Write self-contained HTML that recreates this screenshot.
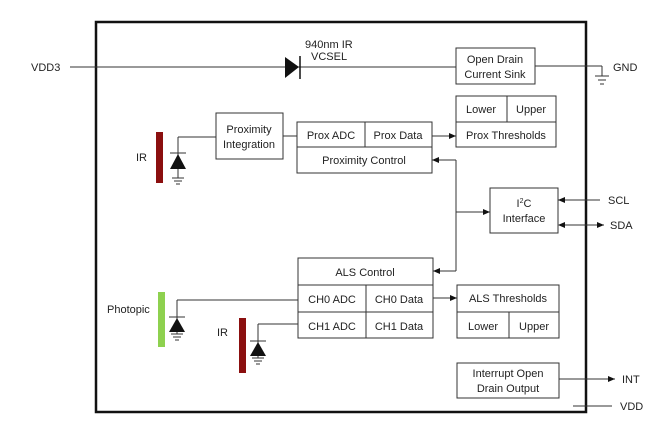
<!DOCTYPE html>
<html><head><style>
body{margin:0;background:#fff;}
svg text{font-family:"Liberation Sans",sans-serif;font-size:11px;fill:#222;}
</style></head><body>
<svg width="663" height="428" viewBox="0 0 663 428" xmlns="http://www.w3.org/2000/svg">
<defs>
<marker id="a" markerWidth="8" markerHeight="8" refX="7" refY="4" orient="auto" markerUnits="userSpaceOnUse"><path d="M0,1 L7,4 L0,7 Z" fill="#111"/></marker>
<marker id="b" markerWidth="8" markerHeight="8" refX="1" refY="4" orient="auto" markerUnits="userSpaceOnUse"><path d="M7,1 L0,4 L7,7 Z" fill="#111"/></marker>
</defs>
<g fill="none" stroke="#333" stroke-width="1">
<rect x="96" y="22" width="490" height="390" stroke="#111" stroke-width="2.5"/>
<!-- VDD3 line -->
<line x1="70" y1="67" x2="456" y2="67"/>
<line x1="535" y1="66" x2="602" y2="66"/>
<line x1="602" y1="66" x2="602" y2="76"/>
<line x1="595" y1="76" x2="609" y2="76"/><line x1="598" y1="80" x2="606" y2="80"/><line x1="600" y1="84" x2="604" y2="84"/>
<rect x="456" y="48" width="79" height="36"/>
<!-- prox -->
<rect x="216" y="113" width="67" height="46"/>
<line x1="283" y1="136" x2="297" y2="136"/>
<rect x="297" y="122" width="135" height="51"/>
<line x1="297" y1="147" x2="432" y2="147"/><line x1="365" y1="122" x2="365" y2="147"/>
<rect x="456" y="96" width="100" height="51"/>
<line x1="456" y1="122" x2="556" y2="122"/><line x1="507" y1="96" x2="507" y2="122"/>
<line x1="432" y1="136" x2="456" y2="136" marker-end="url(#a)"/>
<line x1="456" y1="160" x2="432" y2="160" marker-end="url(#a)"/>
<line x1="456" y1="160" x2="456" y2="271"/>
<line x1="456" y1="212" x2="490" y2="212" marker-end="url(#a)"/>
<line x1="456" y1="271" x2="433" y2="271" marker-end="url(#a)"/>
<rect x="490" y="188" width="68" height="45"/>
<line x1="600" y1="200" x2="558" y2="200" marker-end="url(#a)"/>
<line x1="559" y1="225" x2="604" y2="225" marker-start="url(#b)" marker-end="url(#a)"/>
<!-- prox diode -->
<line x1="178" y1="137" x2="216" y2="137"/>
<line x1="178" y1="137" x2="178" y2="178"/>
<line x1="170" y1="153" x2="186" y2="153"/>
<line x1="172" y1="178" x2="184" y2="178"/><line x1="174" y1="181" x2="182" y2="181"/><line x1="176" y1="184" x2="180" y2="184"/>
<!-- ALS -->
<rect x="298" y="258" width="135" height="80"/>
<line x1="298" y1="285" x2="433" y2="285"/><line x1="298" y1="312" x2="433" y2="312"/><line x1="366" y1="285" x2="366" y2="338"/>
<line x1="433" y1="298" x2="457" y2="298" marker-end="url(#a)"/>
<rect x="457" y="285" width="102" height="53"/>
<line x1="457" y1="312" x2="559" y2="312"/><line x1="509" y1="312" x2="509" y2="338"/>
<rect x="457" y="363" width="102" height="35"/>
<line x1="559" y1="379" x2="615" y2="379" marker-end="url(#a)"/>
<line x1="573" y1="406" x2="612" y2="406"/>
<!-- photopic diode -->
<line x1="177" y1="300" x2="298" y2="300"/>
<line x1="177" y1="300" x2="177" y2="334"/>
<line x1="169" y1="317" x2="185" y2="317"/>
<line x1="171" y1="334" x2="183" y2="334"/><line x1="173" y1="337" x2="181" y2="337"/><line x1="175" y1="340" x2="179" y2="340"/>
<!-- IR2 diode -->
<line x1="258" y1="324" x2="298" y2="324"/>
<line x1="258" y1="324" x2="258" y2="358"/>
<line x1="250" y1="341" x2="266" y2="341"/>
<line x1="252" y1="358" x2="264" y2="358"/><line x1="254" y1="361" x2="262" y2="361"/><line x1="256" y1="364" x2="260" y2="364"/>
</g>
<!-- VCSEL diode -->
<path d="M285,57 L299,67 L285,78 Z" fill="#111"/>
<line x1="300" y1="56" x2="300" y2="79" stroke="#111" stroke-width="1.5"/>
<path d="M170,169 L178,154 L186,169 Z" fill="#111"/>
<path d="M169,332 L177,318 L185,332 Z" fill="#111"/>
<path d="M250,356 L258,342 L266,356 Z" fill="#111"/>
<rect x="156" y="132" width="7" height="51" fill="#8b0f0f"/>
<rect x="158" y="292" width="7" height="55" fill="#8ed14f"/>
<rect x="239" y="318" width="7" height="55" fill="#8b0f0f"/>
<text x="31" y="71">VDD3</text>
<text x="305" y="48" font-size="10">940nm IR</text>
<text x="311" y="60" font-size="10">VCSEL</text>
<text x="613" y="71">GND</text>
<text x="495" y="63" text-anchor="middle">Open Drain</text>
<text x="495" y="78" text-anchor="middle">Current Sink</text>
<text x="249" y="133" text-anchor="middle">Proximity</text>
<text x="249" y="148" text-anchor="middle">Integration</text>
<text x="331" y="139" text-anchor="middle">Prox ADC</text>
<text x="398" y="139" text-anchor="middle">Prox Data</text>
<text x="364" y="164" text-anchor="middle">Proximity Control</text>
<text x="481" y="113" text-anchor="middle">Lower</text>
<text x="531" y="113" text-anchor="middle">Upper</text>
<text x="506" y="139" text-anchor="middle">Prox Thresholds</text>
<text x="136" y="161">IR</text>
<text x="524" y="207" text-anchor="middle">I<tspan font-size="7" dy="-4">2</tspan><tspan dy="4">C</tspan></text>
<text x="524" y="222" text-anchor="middle">Interface</text>
<text x="608" y="204">SCL</text>
<text x="610" y="229">SDA</text>
<text x="365" y="276" text-anchor="middle">ALS Control</text>
<text x="332" y="303" text-anchor="middle">CH0 ADC</text>
<text x="399" y="303" text-anchor="middle">CH0 Data</text>
<text x="332" y="330" text-anchor="middle">CH1 ADC</text>
<text x="399" y="330" text-anchor="middle">CH1 Data</text>
<text x="508" y="302" text-anchor="middle">ALS Thresholds</text>
<text x="483" y="330" text-anchor="middle">Lower</text>
<text x="534" y="330" text-anchor="middle">Upper</text>
<text x="508" y="377" text-anchor="middle">Interrupt Open</text>
<text x="508" y="392" text-anchor="middle">Drain Output</text>
<text x="622" y="383">INT</text>
<text x="620" y="410">VDD</text>
<text x="107" y="313">Photopic</text>
<text x="217" y="336">IR</text>
</svg>
</body></html>
